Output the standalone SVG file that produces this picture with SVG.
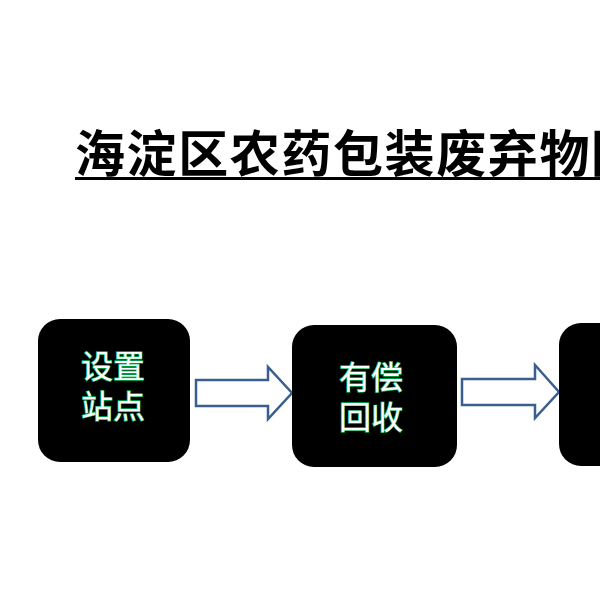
<svg xmlns="http://www.w3.org/2000/svg" width="600" height="600" viewBox="0 0 600 600">
<style>
.box{fill:#000;}
.lbl{font-family:"Noto Sans CJK SC","Noto Sans",sans-serif;font-size:32px;fill:#fff;stroke:#00b050;stroke-width:1.4;paint-order:stroke;text-anchor:middle;}
.arrow{fill:#fff;stroke:#3a5f8f;stroke-width:2.5;stroke-linejoin:miter;}
.title{font-family:"Noto Sans CJK SC","Noto Sans",sans-serif;font-size:50px;font-weight:bold;fill:#000;letter-spacing:1.6px;}
</style>
<rect width="600" height="600" fill="#fff"/>
<g id="title">
<text class="title" x="75" y="172">海淀区农药包装废弃物回</text>
<rect x="75" y="177" width="525" height="3" fill="#000"/>
</g>
<g id="connectors">
<polygon class="arrow" points="196,380 268,380 268,367 292,393 268,419 268,406 196,406"/>
<polygon class="arrow" points="462,379 535,379 535,365 559,392 535,418 535,405 462,405"/>
</g>
<g id="node1">
<rect class="box" x="38" y="319" width="152" height="143" rx="22"/>
<text class="lbl" x="113" y="378">设置</text>
<text class="lbl" x="113" y="418">站点</text>
</g>
<g id="node2">
<rect class="box" x="292" y="325" width="165" height="142" rx="22"/>
<text class="lbl" x="371" y="389">有偿</text>
<text class="lbl" x="371" y="429">回收</text>
</g>
<g id="node3">
<rect class="box" x="559" y="323" width="120" height="143" rx="22"/>
</g>
</svg>
